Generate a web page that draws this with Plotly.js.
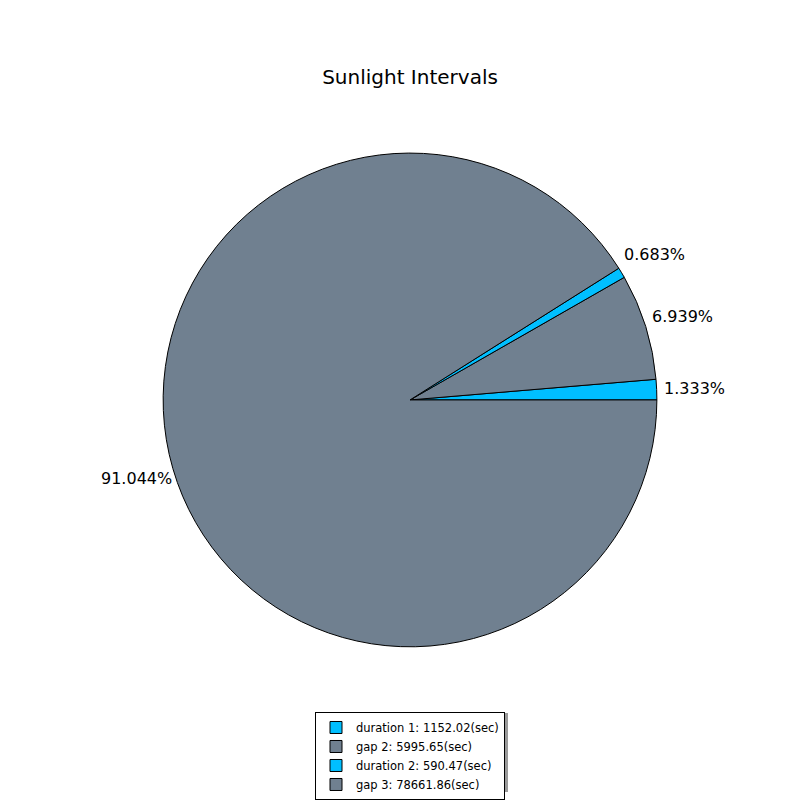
<!DOCTYPE html>
<html>
<head>
<meta charset="utf-8">
<script src="https://cdn.plot.ly/plotly-3.0.1.min.js"></script>
<style>
  html, body { margin: 0; padding: 0; background: #fff; }
  #chart { width: 800px; height: 800px; }
</style>
</head>
<body>
<div id="chart"></div>
<script>
// sunlight intervals over one day (seconds)
const names = ['duration 1', 'gap 2', 'duration 2', 'gap 3'];
const seconds = [1152.02, 5995.65, 590.47, 78661.86];
const colors = ['#00BFFF', '#708090', '#00BFFF', '#708090'];

const total = seconds.reduce((a, b) => a + b, 0);
const legendNames = names.map((n, i) => n + ': ' + seconds[i].toFixed(2) + '(sec)');

// pie geometry in paper units (matplotlib-like: start at 3 o'clock, ccw)
const cx = 410 / 800, cy = 0.5 - 5 / 800, rad = 250 / 800;

const data = [{
  type: 'pie',
  labels: legendNames,
  values: seconds,
  sort: false,
  direction: 'counterclockwise',
  rotation: 90 - 360 * seconds[0] / total,
  marker: { colors: colors, line: { color: '#000', width: 1 } },
  textposition: 'none',
  hoverinfo: 'label+percent',
  domain: { x: [cx - rad, cx + rad], y: [cy - rad, cy + rad] }
}];

// percent labels just outside the pie, centred on each slice's mid angle
const pctLabels = [];
let acc = 0;
seconds.forEach(v => {
  const mid = 2 * Math.PI * (acc + v / 2) / total;
  acc += v;
  pctLabels.push({
    xref: 'paper', yref: 'paper',
    x: cx + 1.14 * rad * Math.cos(mid),
    y: cy + 1.14 * rad * Math.sin(mid),
    xanchor: 'center', yanchor: 'middle',
    showarrow: false,
    text: (100 * v / total).toFixed(3) + '%',
    font: { family: 'DejaVu Sans', size: 16, color: '#000' }
  });
});

const layout = {
  width: 800,
  height: 800,
  margin: { l: 0, r: 0, t: 0, b: 0 },
  paper_bgcolor: '#fff',
  font: { family: 'DejaVu Sans', color: '#000' },
  title: {
    text: 'Sunlight Intervals',
    font: { family: 'DejaVu Sans', size: 20, color: '#000' },
    x: 0.5125, xanchor: 'center',
    y: 1 - 77 / 800, yanchor: 'middle'
  },
  annotations: pctLabels,
  showlegend: true,
  legend: {
    x: 0.5125, xanchor: 'center',
    y: 1 - 721 / 800, yanchor: 'top',
    bgcolor: '#fff',
    bordercolor: '#000',
    borderwidth: 1,
    font: { family: 'DejaVu Sans', size: 11.5, color: '#000' }
  },
  shapes: [{
    // drop shadow behind the legend box
    type: 'rect', xref: 'paper', yref: 'paper', layer: 'below',
    x0: 322 / 800, x1: 508 / 800, y0: 1 - 802 / 800, y1: 1 - 722 / 800,
    fillcolor: '#999', line: { width: 0 }
  }]
};

Plotly.newPlot('chart', data, layout, { displayModeBar: false });
</script>
</body>
</html>
